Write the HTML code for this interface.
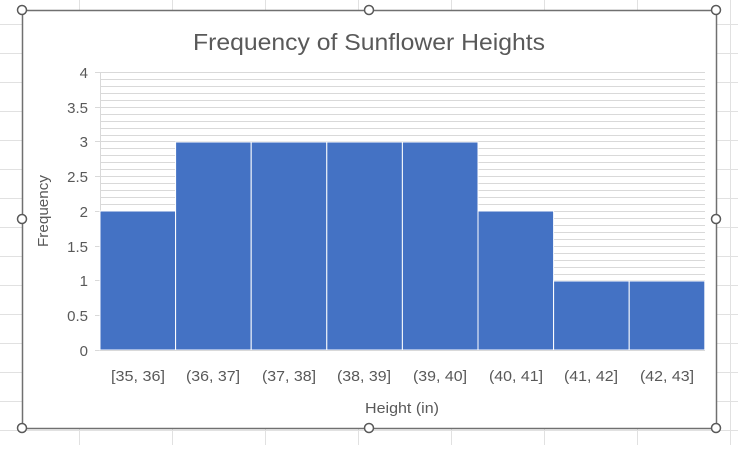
<!DOCTYPE html>
<html><head><style>
body{margin:0;background:#fff;}
svg text{font-family:"Liberation Sans",sans-serif;}
</style></head><body>
<svg width="738" height="445" viewBox="0 0 738 445" xmlns="http://www.w3.org/2000/svg">
<g stroke="#e1e1e1" stroke-width="1">
<line x1="0" y1="24.5" x2="738" y2="24.5"/><line x1="0" y1="53.5" x2="738" y2="53.5"/><line x1="0" y1="82.5" x2="738" y2="82.5"/><line x1="0" y1="111.5" x2="738" y2="111.5"/><line x1="0" y1="140.5" x2="738" y2="140.5"/><line x1="0" y1="169.5" x2="738" y2="169.5"/><line x1="0" y1="198.5" x2="738" y2="198.5"/><line x1="0" y1="227.5" x2="738" y2="227.5"/><line x1="0" y1="256.5" x2="738" y2="256.5"/><line x1="0" y1="285.5" x2="738" y2="285.5"/><line x1="0" y1="314.5" x2="738" y2="314.5"/><line x1="0" y1="343.5" x2="738" y2="343.5"/><line x1="0" y1="372.5" x2="738" y2="372.5"/><line x1="0" y1="401.5" x2="738" y2="401.5"/><line x1="0" y1="430.5" x2="738" y2="430.5"/>
<line x1="79.5" y1="0" x2="79.5" y2="445"/><line x1="172.5" y1="0" x2="172.5" y2="445"/><line x1="265.5" y1="0" x2="265.5" y2="445"/><line x1="358.5" y1="0" x2="358.5" y2="445"/><line x1="451.5" y1="0" x2="451.5" y2="445"/><line x1="544.5" y1="0" x2="544.5" y2="445"/><line x1="637.5" y1="0" x2="637.5" y2="445"/><line x1="730.5" y1="0" x2="730.5" y2="445"/>
</g>
<rect x="22.5" y="10.5" width="694" height="418" fill="#fff" stroke="#707070" stroke-width="1.5"/>
<g stroke="#d9d9d9" stroke-width="1">
<line x1="100" x2="705" y1="72.5" y2="72.5"/><line x1="100" x2="705" y1="79.5" y2="79.5"/><line x1="100" x2="705" y1="86.5" y2="86.5"/><line x1="100" x2="705" y1="93.5" y2="93.5"/><line x1="100" x2="705" y1="100.5" y2="100.5"/><line x1="100" x2="705" y1="107.5" y2="107.5"/><line x1="100" x2="705" y1="114.5" y2="114.5"/><line x1="100" x2="705" y1="121.5" y2="121.5"/><line x1="100" x2="705" y1="128.5" y2="128.5"/><line x1="100" x2="705" y1="135.5" y2="135.5"/>
<line x1="100" x2="705" y1="141.5" y2="141.5"/><line x1="100" x2="705" y1="148.5" y2="148.5"/><line x1="100" x2="705" y1="155.5" y2="155.5"/><line x1="100" x2="705" y1="162.5" y2="162.5"/><line x1="100" x2="705" y1="169.5" y2="169.5"/><line x1="100" x2="705" y1="176.5" y2="176.5"/><line x1="100" x2="705" y1="183.5" y2="183.5"/><line x1="100" x2="705" y1="190.5" y2="190.5"/><line x1="100" x2="705" y1="197.5" y2="197.5"/><line x1="100" x2="705" y1="204.5" y2="204.5"/>
<line x1="100" x2="705" y1="211.5" y2="211.5"/><line x1="100" x2="705" y1="218.5" y2="218.5"/><line x1="100" x2="705" y1="225.5" y2="225.5"/><line x1="100" x2="705" y1="232.5" y2="232.5"/><line x1="100" x2="705" y1="239.5" y2="239.5"/><line x1="100" x2="705" y1="246.5" y2="246.5"/><line x1="100" x2="705" y1="253.5" y2="253.5"/><line x1="100" x2="705" y1="260.5" y2="260.5"/><line x1="100" x2="705" y1="267.5" y2="267.5"/><line x1="100" x2="705" y1="274.5" y2="274.5"/>
<line x1="100" x2="705" y1="280.5" y2="280.5"/><line x1="100" x2="705" y1="287.5" y2="287.5"/><line x1="100" x2="705" y1="294.5" y2="294.5"/><line x1="100" x2="705" y1="301.5" y2="301.5"/><line x1="100" x2="705" y1="308.5" y2="308.5"/><line x1="100" x2="705" y1="315.5" y2="315.5"/><line x1="100" x2="705" y1="322.5" y2="322.5"/><line x1="100" x2="705" y1="329.5" y2="329.5"/><line x1="100" x2="705" y1="336.5" y2="336.5"/><line x1="100" x2="705" y1="343.5" y2="343.5"/>
<line x1="100.5" x2="100.5" y1="72" y2="350"/>
<line x1="95" x2="100" y1="72.5" y2="72.5"/><line x1="95" x2="100" y1="107.5" y2="107.5"/><line x1="95" x2="100" y1="141.5" y2="141.5"/><line x1="95" x2="100" y1="176.5" y2="176.5"/><line x1="95" x2="100" y1="211.5" y2="211.5"/><line x1="95" x2="100" y1="246.5" y2="246.5"/><line x1="95" x2="100" y1="280.5" y2="280.5"/><line x1="95" x2="100" y1="315.5" y2="315.5"/><line x1="95" x2="100" y1="350.5" y2="350.5"/>
</g>
<g fill="#4472c4" stroke="#fff" stroke-width="1">
<rect x="100" y="211" width="75.6" height="139"/>
<rect x="175.6" y="142" width="75.6" height="208"/>
<rect x="251.2" y="142" width="75.6" height="208"/>
<rect x="326.8" y="142" width="75.6" height="208"/>
<rect x="402.4" y="142" width="75.6" height="208"/>
<rect x="478" y="211" width="75.6" height="139"/>
<rect x="553.6" y="281" width="75.6" height="69"/>
<rect x="629.2" y="281" width="75.6" height="69"/>
</g>
<line x1="100" x2="705" y1="350.5" y2="350.5" stroke="#d9d9d9"/>
<text x="369" y="50" text-anchor="middle" font-size="23" fill="#595959" textLength="352" lengthAdjust="spacingAndGlyphs">Frequency of Sunflower Heights</text>
<g font-size="15" fill="#595959" text-anchor="end">
<text x="88" y="78">4</text><text x="88" y="113">3.5</text><text x="88" y="147">3</text><text x="88" y="182">2.5</text><text x="88" y="217">2</text><text x="88" y="252">1.5</text><text x="88" y="286">1</text><text x="88" y="321">0.5</text><text x="88" y="356">0</text>
</g>
<g font-size="15" fill="#595959" text-anchor="middle">
<text x="138" y="381" textLength="54" lengthAdjust="spacingAndGlyphs">[35, 36]</text><text x="213" y="381" textLength="54" lengthAdjust="spacingAndGlyphs">(36, 37]</text><text x="289" y="381" textLength="54" lengthAdjust="spacingAndGlyphs">(37, 38]</text><text x="364" y="381" textLength="54" lengthAdjust="spacingAndGlyphs">(38, 39]</text><text x="440" y="381" textLength="54" lengthAdjust="spacingAndGlyphs">(39, 40]</text><text x="516" y="381" textLength="54" lengthAdjust="spacingAndGlyphs">(40, 41]</text><text x="591" y="381" textLength="54" lengthAdjust="spacingAndGlyphs">(41, 42]</text><text x="667" y="381" textLength="54" lengthAdjust="spacingAndGlyphs">(42, 43]</text>
<text x="402" y="413" textLength="74" lengthAdjust="spacingAndGlyphs">Height (in)</text>
<text transform="translate(48,211) rotate(-90)" textLength="72" lengthAdjust="spacingAndGlyphs">Frequency</text>
</g>
<g fill="#fff" stroke="#595959" stroke-width="1.5">
<circle cx="22" cy="10" r="4.5"/><circle cx="369" cy="10" r="4.5"/><circle cx="716" cy="10" r="4.5"/>
<circle cx="22" cy="219" r="4.5"/><circle cx="716" cy="219" r="4.5"/>
<circle cx="22" cy="428" r="4.5"/><circle cx="369" cy="428" r="4.5"/><circle cx="716" cy="428" r="4.5"/>
</g>
</svg>
</body></html>
